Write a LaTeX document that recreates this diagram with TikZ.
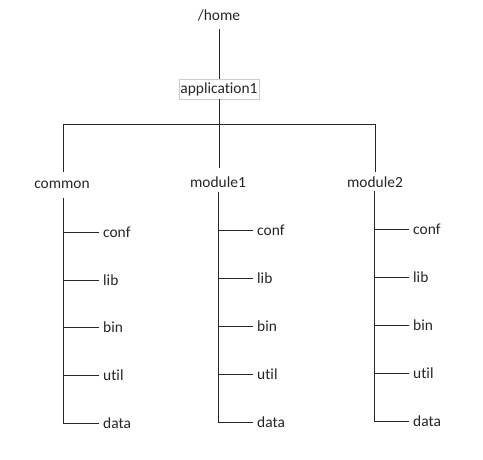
\documentclass[tikz,border=0pt]{standalone}
\usepackage{fontspec}
\setmainfont{Carlito}[Ligatures=NoCommon]
\begin{document}
\begin{tikzpicture}[x=1bp,y=-1bp,
  lbl/.style={font=\fontsize{15.5}{18}\selectfont, text=black!85, inner sep=1bp},
  leaf/.style={lbl, anchor=west, inner sep=4bp},
  wire/.style={draw=black!85, line width=0.8bp}]
\useasboundingbox[fill=white] (0,0) rectangle (483,460);
% top
\node[lbl] (home) at (219,15) {/home};
\node[lbl, draw=black!20, line width=0.6bp, minimum width=80bp, minimum height=20bp, inner sep=0pt] (app) at (219,89) {application1};
\node[lbl] (common) at (62,185) {common};
\node[lbl] (module1) at (218,182) {module1};
\node[lbl] (module2) at (375,182) {module2};
\coordinate (homeb) at (219,29);
\coordinate (barL) at (63,124);
\coordinate (barR) at (375,124);
\coordinate (cTopA) at (63,172);
\coordinate (m1TopA) at (219,168);
\coordinate (m2TopA) at (375,172);
\draw[wire] (homeb) -- (app.north);
\draw[wire] (barL) -- (barR);
\draw[wire] (barL) -- (cTopA);
\draw[wire] (barR) -- (m2TopA);
\draw[wire] (app.south) -- (m1TopA);
% common
\coordinate (cTop) at (63,198);
\node[leaf] (cconf) at (99,232) {conf};
\node[leaf] (clib) at (99,280) {lib};
\node[leaf] (cbin) at (99,327) {bin};
\node[leaf] (cutil) at (99,375) {util};
\node[leaf] (cdata) at (99,423) {data};
\foreach \n in {cconf,clib,cbin,cutil,cdata} \draw[wire] (cTop) |- (\n.west);
% module1
\coordinate (m1Top) at (218,192);
\node[leaf] (m1conf) at (253,230) {conf};
\node[leaf] (m1lib) at (253,278) {lib};
\node[leaf] (m1bin) at (253,326) {bin};
\node[leaf] (m1util) at (253,374) {util};
\node[leaf] (m1data) at (253,422) {data};
\foreach \n in {m1conf,m1lib,m1bin,m1util,m1data} \draw[wire] (m1Top) |- (\n.west);
% module2
\coordinate (m2Top) at (374,191);
\node[leaf] (m2conf) at (409,229) {conf};
\node[leaf] (m2lib) at (409,277) {lib};
\node[leaf] (m2bin) at (409,325) {bin};
\node[leaf] (m2util) at (409,373) {util};
\node[leaf] (m2data) at (409,421) {data};
\foreach \n in {m2conf,m2lib,m2bin,m2util,m2data} \draw[wire] (m2Top) |- (\n.west);
\end{tikzpicture}
\end{document}
